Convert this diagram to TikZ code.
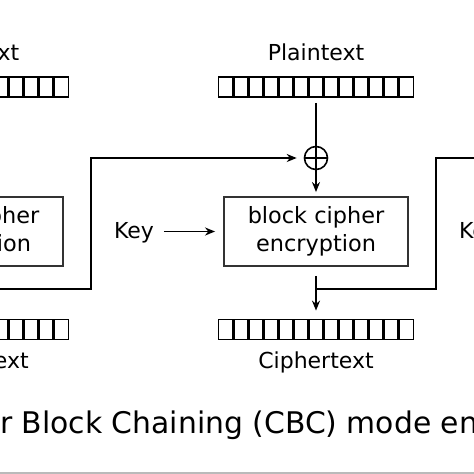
\documentclass[tikz,border=0pt]{standalone}
\usepackage{fontspec}
\setmainfont{DejaVu Sans}
\usetikzlibrary{arrows.meta}
\begin{document}
\begin{tikzpicture}[x=1pt,y=1pt,
  line width=1.8pt,
  txt/.style={font=\fontsize{22}{28}\selectfont, inner sep=0pt},
  captxt/.style={font=\fontsize{29.8}{34}\selectfont, inner sep=0pt},
  bar/.style={draw, line width=1.8pt, minimum width=195pt, minimum height=20pt, inner sep=0pt,
    path picture={\foreach \i in {1,...,12}{\draw[line width=2.2pt]
      ([xshift=\i*15pt]path picture bounding box.south west) --
      ([xshift=\i*15pt]path picture bounding box.north west);}}},
  encbox/.style={draw, line width=1.9pt, draw=black!80, minimum width=184pt, minimum height=69pt,
    align=center, font=\fontsize{22.4}{28}\selectfont, inner sep=0pt},
  xorsym/.style={draw, circle, line width=1.6pt, minimum size=23pt, inner sep=0pt,
    path picture={\draw[line width=1.6pt] (path picture bounding box.west) -- (path picture bounding box.east);
                  \draw[line width=1.6pt] (path picture bounding box.north) -- (path picture bounding box.south);}},
  arr/.style={-{Stealth[length=10pt,width=8pt]}},
  wire/.style={line width=1.7pt}]
\useasboundingbox (0,0) rectangle (474,-474);
\clip (0,0) rectangle (474,-474);
\fill[white] (0,0) rectangle (474,-474);
\fill[black!27] (0,-471.5) rectangle (474,-474);

% ---------- left (previous) stage ----------
\node[txt, anchor=base] (ptL) at (-29,-60) {Plaintext};
\node[bar] (pbarL) at (-29,-87) {};
\node[encbox] (encL) at (-29,-231.5) {block cipher\\encryption};
\node[bar] (cbarL) at (-29,-329.5) {};
\node[txt, anchor=base] (ctL) at (-29,-368) {Ciphertext};
\coordinate (jL) at (-29,-289);
\coordinate (cL) at (91,-158);

% ---------- centre stage ----------
\node[txt, anchor=base] (pt) at (316,-60) {Plaintext};
\node[bar] (pbar) at (316,-87) {};
\node[xorsym] (xor) at (316,-158) {};
\node[encbox] (enc) at (316,-231.5) {block cipher\\encryption};
\node[txt, anchor=base] (key) at (134,-238) {Key};
\node[bar] (cbar) at (316,-329.5) {};
\node[txt, anchor=base] (ct) at (316,-368) {Ciphertext};
\coordinate (j) at (316,-289);
\coordinate (cR) at (436,-158);
\coordinate (rEnd) at (490,-158);

% ---------- right (next) stage ----------
\node[txt, anchor=base] (keyR) at (479,-238) {Key};

% ---------- connectors ----------
\draw[wire, shorten <=5pt] (pbar.south) -- (xor.north);
\draw[wire, arr, shorten >=4pt] (xor.south) -- (enc.north);
\draw[wire, arr, shorten >=7pt] (jL) -| (cL) -- (xor.west);
\draw[wire, arr, shorten <=9pt, shorten >=8pt] (key.east |- enc.west) -- (enc.west);
\draw[wire, arr, shorten <=9pt, shorten >=8pt] (enc.south) -- (cbar.north);
\draw[wire] (j) -| (cR) -- (rEnd);
\draw[wire, arr, shorten <=9pt, shorten >=8pt] (encL.south) -- (cbarL.north);

% ---------- caption ----------
\node[captxt, anchor=base west] (cap) at (21,-433) {\llap{Cipher }Block Chaining (CBC) mode encryption};
\end{tikzpicture}
\end{document}
